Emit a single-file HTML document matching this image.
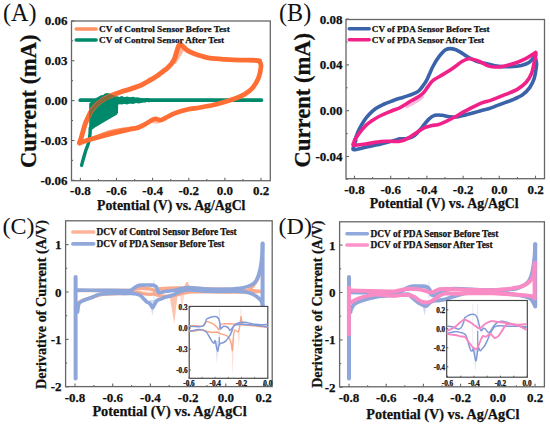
<!DOCTYPE html>
<html><head><meta charset="utf-8"><style>
html,body{margin:0;padding:0;background:#fff;}
svg{display:block;}
text{font-family:"Liberation Serif", serif;} text[font-weight="bold"]{stroke:#111;stroke-width:0.25px;}
</style></head><body>
<svg width="550" height="425" viewBox="0 0 550 425" xmlns="http://www.w3.org/2000/svg">
<rect width="550" height="425" fill="#fff"/>
<text x="3.00" y="20.70" font-size="24.2" font-weight="normal" text-anchor="start" fill="#111" >(A)</text>
<text x="67.50" y="25.36" font-size="13" font-weight="bold" text-anchor="end" fill="#111" >0.06</text>
<text x="67.50" y="65.23" font-size="13" font-weight="bold" text-anchor="end" fill="#111" >0.03</text>
<text x="67.50" y="105.10" font-size="13" font-weight="bold" text-anchor="end" fill="#111" >0.00</text>
<text x="67.50" y="144.97" font-size="13" font-weight="bold" text-anchor="end" fill="#111" >-0.03</text>
<text x="67.50" y="184.84" font-size="13" font-weight="bold" text-anchor="end" fill="#111" >-0.06</text>
<text x="80.40" y="195.00" font-size="13" font-weight="bold" text-anchor="middle" fill="#111" >-0.8</text>
<text x="116.52" y="195.00" font-size="13" font-weight="bold" text-anchor="middle" fill="#111" >-0.6</text>
<text x="152.64" y="195.00" font-size="13" font-weight="bold" text-anchor="middle" fill="#111" >-0.4</text>
<text x="188.76" y="195.00" font-size="13" font-weight="bold" text-anchor="middle" fill="#111" >-0.2</text>
<text x="224.88" y="195.00" font-size="13" font-weight="bold" text-anchor="middle" fill="#111" >0.0</text>
<text x="261.00" y="195.00" font-size="13" font-weight="bold" text-anchor="middle" fill="#111" >0.2</text>
<text x="171.25" y="209.90" font-size="13.78" font-weight="bold" text-anchor="middle" fill="#111" >Potential (V) vs. Ag/AgCl</text>
<text transform="translate(35.8,101.25) rotate(-90)" font-size="22.4" font-weight="bold" text-anchor="middle" fill="#111">Current (mA)</text>
<line x1="80.3" y1="100.2" x2="261.3" y2="100.2" stroke="#00896A" stroke-width="3.8" stroke-linecap="round"/>
<path d="M117.0,98.7 L117.8,100.5 L118.6,99.5 L119.4,100.8 L120.2,100.9 L121.0,97.9 L121.8,97.7 L122.6,101.9 L123.4,99.0 L124.2,98.9 L125.0,102.5 L125.8,100.1 L126.6,101.7 L127.4,100.1 L128.2,100.8 L129.0,98.7 L129.8,100.8 L130.6,101.7 L131.4,100.3 L132.2,101.1 L133.0,100.8 L133.8,98.6 L134.6,101.1 L135.4,100.5 L136.2,99.6 L137.0,98.7 L137.8,101.3 L138.6,100.1 L139.4,100.8 L140.2,101.2 L141.0,100.8 L141.8,101.2 L142.6,99.9 L143.4,100.9 L144.2,100.1 L145.0,101.1 L145.8,100.9 L146.6,99.5 L147.4,99.6 L148.2,99.7 L149.0,100.9 L149.8,100.1 L150.6,100.4" fill="none" stroke="#00896A" stroke-width="2.8" stroke-linecap="round" stroke-linejoin="round" opacity="1" />
<path d="M117,96.3 L120,97 L122,96.2 L124.5,97.2 L127,96.4 L130,97.3 L133,96.8 L136,97.8 L139,97.4 L142,98.4 L146,98.6 L150,99.1 L150,101.4 L146,101.9 L142,102.6 L139,103.4 L136,103 L133,104 L130,103.5 L127,104.4 L124.5,103.8 L122,104.6 L120,104.2 L117,104.8 Z" fill="#00896A"/>
<path d="M89.2,103.5 L91.5,101.5 L94,99.5 L96.5,97.8 L98.8,96.5 L101,95.3 L103,94.9 L105,93.4 L107.2,93 L109.5,93.6 L112.5,94.9 L115,95.8 L117,96.5 L118,98 L118.2,101.8 L118,112.8 L116.8,114.8 L108,119.8 L100.9,124 L95,127.5 L91.3,130.3 L89.2,131 Z" fill="#00896A"/>
<path d="M90.2,128.0 C90.2,129.0 90.2,131.8 90.0,134.0 C89.8,136.2 89.4,139.0 89.0,141.0 C88.6,143.0 88.0,144.6 87.5,146.0 C87.0,147.4 86.7,147.7 86.1,149.5 C85.5,151.3 84.8,153.9 84.0,156.6 C83.2,159.2 82.0,163.9 81.6,165.4" fill="none" stroke="#00896A" stroke-width="3.4" stroke-linecap="round" stroke-linejoin="round" opacity="1" />
<path d="M86,139.5 C92,137 100,133.2 108,130.6 C116,128.3 126,127 138,125.8 L140,129.5 C128,131 118,133.5 110,136.3 C102,138.8 94,141 87,142.5 Z" fill="#FF6E35" opacity="0.75"/>
<path d="M79.5,143.0 C79.9,141.7 81.0,138.3 81.9,135.4 C82.8,132.5 83.8,128.3 84.7,125.5 C85.6,122.7 86.5,120.8 87.5,118.5 C88.5,116.2 89.5,113.8 90.8,111.7 C92.1,109.6 93.5,107.8 95.5,105.8 C97.5,103.8 99.8,101.8 102.5,100.0 C105.2,98.2 108.9,96.7 112.0,95.3 C115.1,93.9 118.2,92.8 121.3,91.7 C124.4,90.6 127.2,90.1 130.7,88.9 C134.1,87.7 138.7,86.2 142.0,84.7 C145.3,83.2 148.1,81.2 150.3,80.0 C152.5,78.8 153.5,78.2 155.0,77.2 C156.5,76.2 158.1,75.2 159.4,74.2 C160.7,73.2 161.8,72.5 163.0,71.5 C164.2,70.5 165.5,69.8 166.9,68.5 C168.3,67.2 170.1,65.5 171.3,64.0 C172.5,62.5 173.4,60.9 174.2,59.3 C175.0,57.7 175.4,56.0 175.9,54.4 C176.4,52.8 176.8,51.1 177.3,49.7 C177.8,48.3 178.2,46.6 178.8,45.8 C179.4,44.9 179.9,44.5 180.6,44.6 C181.3,44.7 182.1,45.7 183.0,46.5 C183.9,47.3 185.0,48.6 186.2,49.5 C187.4,50.4 188.5,51.0 190.0,51.8 C191.5,52.5 193.1,53.3 195.0,54.0 C196.9,54.7 198.9,55.3 201.4,56.0 C203.9,56.7 206.0,57.6 209.9,58.2 C213.8,58.8 219.5,59.1 224.7,59.4 C229.9,59.7 236.2,60.0 241.2,60.1 C246.1,60.2 251.3,60.1 254.4,60.3 C257.4,60.4 258.6,60.9 259.5,61.0" fill="none" stroke="#FF6E35" stroke-width="4.9" stroke-linecap="round" stroke-linejoin="round" opacity="1" />
<path d="M259.5,61.0 C259.8,61.9 261.2,63.6 261.0,66.4 C260.8,69.2 259.9,74.3 258.5,77.9 C257.1,81.5 255.0,85.0 252.7,87.8 C250.4,90.5 247.8,92.5 244.5,94.4 C241.2,96.3 237.7,97.7 233.0,99.3 C228.3,100.9 222.0,102.9 216.5,104.3 C211.0,105.7 204.9,106.6 200.0,107.5 C195.1,108.4 191.6,108.5 187.3,109.5 C183.1,110.5 178.1,112.0 174.5,113.4 C170.9,114.8 167.9,116.7 165.6,117.8 C163.3,118.9 162.2,120.0 160.5,120.2 C158.8,120.4 157.2,118.7 155.5,118.8 C153.8,118.9 152.1,120.1 150.4,121.0 C148.7,121.9 147.4,123.1 145.3,124.2 C143.2,125.3 140.2,126.9 137.6,127.8 C135.0,128.7 133.9,128.5 130.0,129.3 C126.1,130.2 119.3,131.7 114.3,132.9 C109.3,134.1 104.4,135.3 100.2,136.4 C96.0,137.5 92.5,138.6 89.0,139.7 C85.5,140.8 81.1,142.4 79.5,143.0" fill="none" stroke="#FF6E35" stroke-width="4.7" stroke-linecap="round" stroke-linejoin="round" opacity="1" />
<clipPath id="gb"><path d="M89.2,103.5 L91.5,101.5 L94,99.5 L96.5,97.8 L98.8,96.5 L101,95.3 L103,94.9 L105,93.4 L107.2,93 L109.5,93.6 L112.5,94.9 L115,95.8 L117,96.5 L118,98 L118.2,101.8 L118,112.8 L116.8,114.8 L108,119.8 L100.9,124 L95,127.5 L91.3,130.3 L89.2,131 Z"/></clipPath>
<g clip-path="url(#gb)">
<path d="M79.5,143.0 C79.9,141.7 81.0,138.3 81.9,135.4 C82.8,132.5 83.8,128.3 84.7,125.5 C85.6,122.7 86.5,120.8 87.5,118.5 C88.5,116.2 89.5,113.8 90.8,111.7 C92.1,109.6 93.5,107.8 95.5,105.8 C97.5,103.8 99.8,101.8 102.5,100.0 C105.2,98.2 108.9,96.7 112.0,95.3 C115.1,93.9 119.8,92.3 121.3,91.7" fill="none" stroke="#8A6A3A" stroke-width="4.0" stroke-linecap="round" stroke-linejoin="round" opacity="1" />
</g>
<path d="M173.5,63 L175.5,57 L177,51 L178.3,46 L180,43.3 L182.5,44 L185.5,47.5 L184,50.5 L181,55.5 L178,60.5 L175.8,64 Z" fill="#FF6E35" opacity="0.5"/>
<ellipse cx="156" cy="120.5" rx="5" ry="3.5" fill="#FF6E35" opacity="0.35"/>
<rect x="71.5" y="21" width="198.8" height="159.7" fill="none" stroke="#666" stroke-width="1.3"/>
<line x1="80.4" y1="180.7" x2="80.4" y2="177.7" stroke="#666" stroke-width="1.1"/>
<line x1="116.5" y1="180.7" x2="116.5" y2="177.7" stroke="#666" stroke-width="1.1"/>
<line x1="152.6" y1="180.7" x2="152.6" y2="177.7" stroke="#666" stroke-width="1.1"/>
<line x1="188.8" y1="180.7" x2="188.8" y2="177.7" stroke="#666" stroke-width="1.1"/>
<line x1="224.9" y1="180.7" x2="224.9" y2="177.7" stroke="#666" stroke-width="1.1"/>
<line x1="261.0" y1="180.7" x2="261.0" y2="177.7" stroke="#666" stroke-width="1.1"/>
<line x1="98.5" y1="180.7" x2="98.5" y2="179.1" stroke="#666" stroke-width="1.1"/>
<line x1="134.6" y1="180.7" x2="134.6" y2="179.1" stroke="#666" stroke-width="1.1"/>
<line x1="170.7" y1="180.7" x2="170.7" y2="179.1" stroke="#666" stroke-width="1.1"/>
<line x1="206.8" y1="180.7" x2="206.8" y2="179.1" stroke="#666" stroke-width="1.1"/>
<line x1="242.9" y1="180.7" x2="242.9" y2="179.1" stroke="#666" stroke-width="1.1"/>
<line x1="71.5" y1="20.9" x2="74.5" y2="20.9" stroke="#666" stroke-width="1.1"/>
<line x1="71.5" y1="60.7" x2="74.5" y2="60.7" stroke="#666" stroke-width="1.1"/>
<line x1="71.5" y1="100.6" x2="74.5" y2="100.6" stroke="#666" stroke-width="1.1"/>
<line x1="71.5" y1="140.5" x2="74.5" y2="140.5" stroke="#666" stroke-width="1.1"/>
<line x1="71.5" y1="180.3" x2="74.5" y2="180.3" stroke="#666" stroke-width="1.1"/>
<line x1="71.5" y1="40.8" x2="73.1" y2="40.8" stroke="#666" stroke-width="1.1"/>
<line x1="71.5" y1="80.7" x2="73.1" y2="80.7" stroke="#666" stroke-width="1.1"/>
<line x1="71.5" y1="120.5" x2="73.1" y2="120.5" stroke="#666" stroke-width="1.1"/>
<line x1="71.5" y1="160.4" x2="73.1" y2="160.4" stroke="#666" stroke-width="1.1"/>
<line x1="76.2" y1="29" x2="96.1" y2="29" stroke="#FF9163" stroke-width="3.6" stroke-linecap="round"/>
<line x1="76.2" y1="40" x2="96.1" y2="40" stroke="#00896A" stroke-width="3.5" stroke-linecap="round"/>
<text x="99.00" y="32.00" font-size="9.2" font-weight="bold" text-anchor="start" fill="#111" >CV of Control Sensor Before Test</text>
<text x="99.00" y="43.00" font-size="9.2" font-weight="bold" text-anchor="start" fill="#111" >CV of Control Sensor After Test</text>
<text x="279.00" y="21.20" font-size="24.2" font-weight="normal" text-anchor="start" fill="#111" >(B)</text>
<text x="342.50" y="23.60" font-size="13" font-weight="bold" text-anchor="end" fill="#111" >0.08</text>
<text x="342.50" y="69.40" font-size="13" font-weight="bold" text-anchor="end" fill="#111" >0.04</text>
<text x="342.50" y="115.20" font-size="13" font-weight="bold" text-anchor="end" fill="#111" >0.00</text>
<text x="342.50" y="161.00" font-size="13" font-weight="bold" text-anchor="end" fill="#111" >-0.04</text>
<text x="354.50" y="193.50" font-size="13" font-weight="bold" text-anchor="middle" fill="#111" >-0.8</text>
<text x="390.70" y="193.50" font-size="13" font-weight="bold" text-anchor="middle" fill="#111" >-0.6</text>
<text x="426.90" y="193.50" font-size="13" font-weight="bold" text-anchor="middle" fill="#111" >-0.4</text>
<text x="463.10" y="193.50" font-size="13" font-weight="bold" text-anchor="middle" fill="#111" >-0.2</text>
<text x="499.30" y="193.50" font-size="13" font-weight="bold" text-anchor="middle" fill="#111" >0.0</text>
<text x="535.50" y="193.50" font-size="13" font-weight="bold" text-anchor="middle" fill="#111" >0.2</text>
<text x="444.20" y="207.80" font-size="13.83" font-weight="bold" text-anchor="middle" fill="#111" >Potential (V) vs. Ag/AgCl</text>
<text transform="translate(310,100.15) rotate(-90)" font-size="22.6" font-weight="bold" text-anchor="middle" fill="#111">Current (mA)</text>
<path d="M355.5,141.0 C355.6,140.3 355.4,138.9 356.0,137.0 C356.6,135.1 357.5,132.5 358.9,129.8 C360.2,127.1 362.4,123.3 364.1,120.7 C365.8,118.1 367.4,116.2 369.3,114.2 C371.2,112.2 373.5,110.0 375.8,108.4 C378.1,106.8 380.6,105.7 383.2,104.5 C385.8,103.3 388.8,102.2 391.5,101.2 C394.2,100.2 397.0,99.2 399.7,98.3 C402.4,97.4 405.0,96.8 407.6,95.9 C410.2,95.0 413.6,93.8 415.6,92.8 C417.6,91.8 418.5,91.1 419.7,89.9 C420.9,88.7 421.9,87.3 423.0,85.8 C424.1,84.3 425.2,82.8 426.3,80.8 C427.4,78.8 428.4,76.4 429.5,74.0 C430.6,71.6 431.3,69.4 432.9,66.5 C434.4,63.6 436.6,59.6 438.8,56.8 C441.0,54.0 443.5,50.9 445.9,49.6 C448.2,48.3 450.5,48.5 452.9,48.9 C455.2,49.3 457.6,50.5 460.0,51.8 C462.4,53.1 464.4,54.9 467.1,56.5 C469.9,58.1 473.4,60.0 476.5,61.2 C479.6,62.4 482.2,62.6 485.9,63.5 C489.6,64.4 494.8,65.9 498.8,66.4 C502.8,66.9 506.3,66.9 510.1,66.7 C513.9,66.5 518.2,66.1 521.4,65.4 C524.5,64.7 526.8,64.1 529.0,62.6 C531.2,61.1 533.7,57.5 534.6,56.5" fill="none" stroke="#3B63AA" stroke-width="3.6" stroke-linecap="round" stroke-linejoin="round" opacity="1" />
<path d="M534.6,56.5 C534.9,57.2 535.9,59.3 536.2,61.0 C536.5,62.7 536.8,63.5 536.4,66.5 C536.0,69.5 535.2,75.3 534.1,78.8 C533.0,82.3 531.6,84.9 529.7,87.6 C527.8,90.2 525.6,92.6 522.6,94.7 C519.6,96.8 514.9,98.7 512.0,100.0 C509.1,101.3 508.8,101.2 505.0,102.6 C501.2,104.0 493.6,107.1 489.4,108.5 C485.2,109.9 483.3,110.0 480.0,110.9 C476.7,111.8 473.4,112.8 469.8,113.8 C466.2,114.8 461.6,116.2 458.2,116.7 C454.8,117.2 452.2,116.9 449.5,116.7 C446.8,116.5 444.6,115.5 442.2,115.3 C439.8,115.1 437.1,114.7 434.9,115.3 C432.7,115.9 431.3,116.9 429.1,118.9 C426.9,121.0 424.2,124.8 421.8,127.6 C419.4,130.4 416.9,133.8 414.5,135.6 C412.1,137.4 409.7,138.0 407.3,138.5 C404.9,139.0 402.1,138.5 400.0,138.8 C397.9,139.1 398.2,139.3 395.0,140.2 C391.8,141.1 385.8,142.8 380.9,144.0 C376.0,145.2 369.9,146.2 365.4,147.2 C360.9,148.2 355.7,150.0 353.8,149.8 C351.9,149.6 353.6,147.5 353.9,146.0 C354.2,144.5 355.2,141.8 355.5,141.0" fill="none" stroke="#3B63AA" stroke-width="3.6" stroke-linecap="round" stroke-linejoin="round" opacity="1" />
<path d="M355.0,139.5 C355.6,138.5 357.2,135.9 358.9,133.6 C360.6,131.3 363.2,128.1 365.4,125.9 C367.6,123.8 369.3,122.4 371.9,120.7 C374.5,119.0 377.6,117.1 380.9,115.5 C384.2,113.9 388.4,112.3 391.5,111.0 C394.6,109.7 397.2,109.0 399.7,107.8 C402.2,106.6 404.4,105.2 406.3,104.0 C408.2,102.8 409.2,102.0 411.2,100.8 C413.1,99.6 416.0,98.3 418.0,97.0 C420.0,95.7 421.6,94.5 423.0,93.2 C424.4,91.9 425.1,90.7 426.3,89.0 C427.5,87.3 429.1,84.9 430.4,83.3 C431.7,81.7 432.1,81.1 434.3,79.6 C436.5,78.1 440.4,76.0 443.5,74.1 C446.6,72.2 449.8,70.3 452.9,68.2 C456.0,66.1 459.6,62.8 462.4,61.2 C465.1,59.6 466.7,58.8 469.4,58.8 C472.1,58.8 475.7,60.0 478.8,61.2 C481.9,62.4 485.5,64.9 488.2,65.9 C490.9,66.9 492.6,66.9 495.0,67.0 C497.4,67.1 499.5,67.0 502.6,66.4 C505.8,65.8 510.1,64.8 513.9,63.5 C517.7,62.2 521.6,60.6 525.2,58.8 C528.8,57.0 533.9,53.5 535.6,52.5" fill="none" stroke="#F0228A" stroke-width="3.6" stroke-linecap="round" stroke-linejoin="round" opacity="1" />
<path d="M535.6,52.5 C535.6,52.9 536.1,53.3 535.9,55.0 C535.6,56.7 534.8,59.8 534.1,62.9 C533.4,66.0 532.8,70.3 531.5,73.5 C530.2,76.7 528.6,79.6 526.2,82.3 C523.8,85.0 520.8,87.3 517.3,89.4 C513.8,91.5 509.3,92.9 505.0,94.7 C500.7,96.5 495.5,98.6 491.3,100.1 C487.1,101.6 484.3,101.8 480.0,103.6 C475.7,105.4 469.9,108.6 465.5,110.9 C461.1,113.2 457.2,115.7 453.8,117.5 C450.4,119.3 447.8,120.6 445.1,121.8 C442.4,123.0 440.0,124.1 437.8,124.7 C435.6,125.3 434.2,125.0 432.0,125.5 C429.8,126.0 427.1,126.5 424.7,127.6 C422.3,128.7 420.2,130.3 417.5,132.0 C414.8,133.7 411.6,136.2 408.7,137.8 C405.8,139.4 403.1,140.7 400.0,141.3 C396.9,141.9 393.6,141.3 390.4,141.3 C387.2,141.3 385.1,141.1 380.9,141.5 C376.7,141.9 369.9,143.4 365.4,144.0 C360.9,144.6 355.7,145.6 353.8,145.3 C351.9,145.0 353.8,143.0 354.0,142.0 C354.2,141.0 354.8,139.9 355.0,139.5" fill="none" stroke="#F0228A" stroke-width="3.6" stroke-linecap="round" stroke-linejoin="round" opacity="1" />
<path d="M405,106.5 L412,102 L418,98.5 L422.5,95 L424.5,97.5 L419.5,101.5 L412.5,105.5 L406.5,108.5 Z" fill="#F0228A" opacity="0.3"/>
<rect x="346" y="19.5" width="198.5" height="159.2" fill="none" stroke="#666" stroke-width="1.3"/>
<line x1="354.5" y1="178.7" x2="354.5" y2="175.7" stroke="#666" stroke-width="1.1"/>
<line x1="390.7" y1="178.7" x2="390.7" y2="175.7" stroke="#666" stroke-width="1.1"/>
<line x1="426.9" y1="178.7" x2="426.9" y2="175.7" stroke="#666" stroke-width="1.1"/>
<line x1="463.1" y1="178.7" x2="463.1" y2="175.7" stroke="#666" stroke-width="1.1"/>
<line x1="499.3" y1="178.7" x2="499.3" y2="175.7" stroke="#666" stroke-width="1.1"/>
<line x1="535.5" y1="178.7" x2="535.5" y2="175.7" stroke="#666" stroke-width="1.1"/>
<line x1="372.6" y1="178.7" x2="372.6" y2="177.1" stroke="#666" stroke-width="1.1"/>
<line x1="408.8" y1="178.7" x2="408.8" y2="177.1" stroke="#666" stroke-width="1.1"/>
<line x1="445.0" y1="178.7" x2="445.0" y2="177.1" stroke="#666" stroke-width="1.1"/>
<line x1="481.2" y1="178.7" x2="481.2" y2="177.1" stroke="#666" stroke-width="1.1"/>
<line x1="517.4" y1="178.7" x2="517.4" y2="177.1" stroke="#666" stroke-width="1.1"/>
<line x1="346" y1="19.1" x2="349" y2="19.1" stroke="#666" stroke-width="1.1"/>
<line x1="346" y1="64.9" x2="349" y2="64.9" stroke="#666" stroke-width="1.1"/>
<line x1="346" y1="110.7" x2="349" y2="110.7" stroke="#666" stroke-width="1.1"/>
<line x1="346" y1="156.5" x2="349" y2="156.5" stroke="#666" stroke-width="1.1"/>
<line x1="346" y1="42.0" x2="347.6" y2="42.0" stroke="#666" stroke-width="1.1"/>
<line x1="346" y1="87.8" x2="347.6" y2="87.8" stroke="#666" stroke-width="1.1"/>
<line x1="346" y1="133.6" x2="347.6" y2="133.6" stroke="#666" stroke-width="1.1"/>
<line x1="346" y1="179.4" x2="347.6" y2="179.4" stroke="#666" stroke-width="1.1"/>
<line x1="349.2" y1="28.7" x2="369.3" y2="28.7" stroke="#3B63AA" stroke-width="3.4" stroke-linecap="round"/>
<line x1="349.2" y1="39.8" x2="369.3" y2="39.8" stroke="#F0228A" stroke-width="3.4" stroke-linecap="round"/>
<text x="371.80" y="31.80" font-size="9.15" font-weight="bold" text-anchor="start" fill="#111" >CV of PDA Sensor Before Test</text>
<text x="371.80" y="42.80" font-size="9.15" font-weight="bold" text-anchor="start" fill="#111" >CV of PDA Sensor After Test</text>
<text x="2.40" y="234.30" font-size="24" font-weight="normal" text-anchor="start" fill="#111" >(C)</text>
<text x="61.50" y="249.10" font-size="13" font-weight="bold" text-anchor="end" fill="#111" >1</text>
<text x="61.50" y="296.50" font-size="13" font-weight="bold" text-anchor="end" fill="#111" >0</text>
<text x="61.50" y="343.90" font-size="13" font-weight="bold" text-anchor="end" fill="#111" >-1</text>
<text x="61.50" y="391.30" font-size="13" font-weight="bold" text-anchor="end" fill="#111" >-2</text>
<text x="75.00" y="401.50" font-size="13" font-weight="bold" text-anchor="middle" fill="#111" >-0.8</text>
<text x="112.70" y="401.50" font-size="13" font-weight="bold" text-anchor="middle" fill="#111" >-0.6</text>
<text x="150.40" y="401.50" font-size="13" font-weight="bold" text-anchor="middle" fill="#111" >-0.4</text>
<text x="188.10" y="401.50" font-size="13" font-weight="bold" text-anchor="middle" fill="#111" >-0.2</text>
<text x="225.80" y="401.50" font-size="13" font-weight="bold" text-anchor="middle" fill="#111" >0.0</text>
<text x="263.50" y="401.50" font-size="13" font-weight="bold" text-anchor="middle" fill="#111" >0.2</text>
<text x="169.50" y="416.40" font-size="14.32" font-weight="bold" text-anchor="middle" fill="#111" >Potential (V) vs. Ag/AgCl</text>
<text transform="translate(46,304.5) rotate(-90)" font-size="14.2" font-weight="bold" text-anchor="middle" fill="#111">Derivative of Current (A/V)</text>
<path d="M76.0,290.5 C80.0,290.5 91.7,290.5 100.0,290.5 C108.3,290.5 120.7,290.6 126.0,290.5 C131.3,290.4 130.1,290.3 132.0,290.0 C133.9,289.7 135.8,288.8 137.5,288.5 C139.2,288.2 140.4,288.1 142.5,288.2 C144.6,288.3 148.0,288.6 149.8,288.9 C151.6,289.2 152.3,289.7 153.5,290.0 C154.7,290.3 156.0,291.0 157.0,290.8 C158.0,290.6 157.5,289.3 159.3,288.9 C161.1,288.5 165.2,288.3 168.0,288.2 C170.8,288.1 173.3,288.0 176.0,288.0 C178.7,288.0 181.8,288.0 184.0,288.0 C186.2,288.0 185.0,287.6 189.0,287.8 C193.0,288.0 201.5,288.7 208.0,289.0 C214.5,289.3 222.2,289.3 228.0,289.5 C233.8,289.7 239.2,289.8 243.0,290.0 C246.8,290.2 247.8,290.2 251.0,290.5 C254.2,290.8 260.3,291.3 262.2,291.5" fill="none" stroke="#FBAA8C" stroke-width="3.4" stroke-linecap="round" stroke-linejoin="round" opacity="1" />
<path d="M78.0,303.0 C78.8,302.6 80.2,301.4 82.5,300.5 C84.8,299.6 88.8,298.4 91.9,297.4 C95.0,296.4 97.8,295.1 101.3,294.5 C104.8,293.9 108.9,294.0 113.0,293.8 C117.1,293.6 122.8,293.6 126.0,293.5 C129.2,293.4 130.1,293.2 132.0,293.0 C133.9,292.8 135.8,292.3 137.5,292.4 C139.2,292.5 140.4,293.3 142.5,293.6 C144.6,293.9 147.9,294.3 149.8,294.4 C151.8,294.5 152.8,293.8 154.2,294.0 C155.6,294.2 156.9,295.1 158.5,295.5 C160.1,295.9 162.1,296.1 164.0,296.2 C165.9,296.3 168.0,296.2 170.0,296.0 C172.0,295.8 174.0,295.4 176.0,295.0 C178.0,294.6 179.7,294.0 182.0,293.5 C184.3,293.0 187.0,292.3 190.0,292.0 C193.0,291.7 193.7,291.8 200.0,291.8 C206.3,291.8 220.5,292.0 228.0,292.0 C235.5,292.0 240.5,291.9 245.0,291.8 C249.5,291.7 252.2,291.6 255.0,291.6 C257.8,291.6 260.4,291.6 261.5,291.6" fill="none" stroke="#FBAA8C" stroke-width="3.4" stroke-linecap="round" stroke-linejoin="round" opacity="1" />
<path d="M250.0,289.0 C250.8,288.1 253.4,285.5 254.8,283.5 C256.2,281.5 257.5,279.2 258.5,277.0 C259.5,274.8 260.4,271.8 261.0,270.0 C261.6,268.2 262.1,266.7 262.3,266.0" fill="none" stroke="#FBAA8C" stroke-width="3.6" stroke-linecap="round" stroke-linejoin="round" opacity="1" />
<path d="M169.3,294.5 L174.3,323.5 L177.6,294.5 Z" fill="#FBAA8C" opacity="0.7"/>
<path d="M179.5,295 L182.3,307.5 L184.5,295 Z" fill="#FBAA8C" opacity="0.4"/>
<path d="M183,289 L184.6,285.5 L186.4,282 L187.8,282 L189.2,285.5 L190.8,289 Z" fill="#FBAA8C" opacity="0.8"/>
<path d="M132,290 L137.5,288.5 L142.5,288.2 L149.8,288.9 L154,290 L158.5,291 L158.5,295.5 L154.2,294 L149.8,294.4 L142.5,293.6 L137.5,292.4 Z" fill="#FBAA8C" opacity="0.2"/>
<line x1="75.6" y1="277" x2="75.6" y2="378.5" stroke="#8EA6DA" stroke-width="4" stroke-linecap="round"/>
<path d="M75.6,290.2 C79.7,290.2 91.6,290.2 100.0,290.3 C108.4,290.4 120.8,290.6 126.0,290.6 C131.2,290.6 129.6,290.8 131.0,290.3 C132.4,289.8 133.4,288.5 134.5,287.8 C135.6,287.1 136.4,286.3 137.5,285.9 C138.6,285.5 139.6,285.3 141.2,285.2 C142.8,285.1 145.2,285.0 147.0,285.0 C148.8,285.0 150.7,285.0 152.0,285.1 C153.3,285.2 154.2,285.5 155.0,285.9 C155.8,286.3 156.2,286.7 156.6,287.4 C157.0,288.1 157.2,289.2 157.5,290.0 C157.8,290.8 158.0,291.9 158.3,292.3 C158.6,292.8 158.7,292.8 159.5,292.7 C160.3,292.6 161.5,292.2 162.9,291.9 C164.3,291.6 165.9,291.4 168.0,291.1 C170.1,290.8 173.0,290.6 175.3,290.2 C177.6,289.8 179.3,288.9 181.6,288.5 C183.9,288.1 184.8,287.6 189.3,287.7 C193.8,287.8 202.2,288.9 208.6,289.1 C215.0,289.3 222.0,289.3 227.8,289.1 C233.6,288.9 239.4,288.4 243.3,287.7 C247.2,287.0 248.9,286.2 251.0,285.2 C253.1,284.1 254.5,283.2 255.8,281.4 C257.1,279.6 257.9,277.0 258.7,274.6 C259.5,272.2 260.0,270.4 260.6,266.9 C261.2,263.4 261.9,257.3 262.2,253.4 C262.5,249.5 262.5,245.2 262.6,243.5" fill="none" stroke="#8EA6DA" stroke-width="3.7" stroke-linecap="round" stroke-linejoin="round" opacity="1" />
<path d="M77.5,312.0 C77.7,310.6 78.1,305.7 78.9,303.8 C79.7,301.9 81.1,301.7 82.5,300.9 C83.9,300.1 85.6,299.7 87.2,299.1 C88.8,298.5 90.3,298.0 91.9,297.4 C93.5,296.8 95.0,295.9 96.6,295.3 C98.2,294.7 98.6,294.3 101.3,294.0 C104.0,293.7 108.9,293.4 113.0,293.3 C117.1,293.2 122.9,293.3 126.0,293.3 C129.1,293.3 130.2,293.4 131.8,293.5 C133.4,293.6 133.9,293.5 135.3,293.8 C136.7,294.1 139.0,294.6 140.4,295.5 C141.8,296.4 142.9,298.0 144.0,299.1 C145.1,300.2 146.1,301.4 146.9,302.0 C147.8,302.6 148.4,302.3 149.1,302.9 C149.8,303.5 150.7,304.8 151.3,305.6 C151.9,306.4 152.1,307.8 152.7,307.5 C153.3,307.2 154.2,304.9 154.9,303.8 C155.6,302.7 156.0,301.5 156.6,300.8 C157.2,300.1 157.8,300.0 158.5,299.7 C159.2,299.4 159.7,299.5 160.7,299.1 C161.7,298.8 163.2,298.0 164.4,297.6 C165.6,297.2 166.6,296.9 168.0,296.5 C169.4,296.1 170.9,295.8 172.9,295.0 C174.9,294.2 177.3,292.6 180.0,291.8 C182.7,291.0 184.5,290.1 189.3,290.0 C194.1,289.9 202.2,291.0 208.6,291.2 C215.0,291.4 223.4,291.4 227.8,291.4 C232.2,291.4 231.8,291.0 235.0,291.2 C238.2,291.4 243.9,291.8 246.8,292.3 C249.7,292.8 250.8,293.3 252.6,294.1 C254.3,294.9 255.9,295.9 257.3,297.0 C258.7,298.1 260.0,299.2 260.9,300.5 C261.8,301.8 262.3,304.2 262.6,305.0" fill="none" stroke="#8EA6DA" stroke-width="3.7" stroke-linecap="round" stroke-linejoin="round" opacity="1" />
<line x1="262.6" y1="243.5" x2="262.6" y2="305" stroke="#8EA6DA" stroke-width="4" stroke-linecap="round"/>
<path d="M149.3,300 L152.3,315.5 L155.6,300 Z" fill="#8EA6DA" opacity="0.4"/>
<line x1="154" y1="280" x2="154" y2="300" stroke="#8EA6DA" stroke-width="0.8" opacity="0.35"/>
<rect x="65.6" y="220.8" width="206.6" height="165.8" fill="none" stroke="#666" stroke-width="1.3"/>
<line x1="75.0" y1="386.6" x2="75.0" y2="383.6" stroke="#666" stroke-width="1.1"/>
<line x1="112.7" y1="386.6" x2="112.7" y2="383.6" stroke="#666" stroke-width="1.1"/>
<line x1="150.4" y1="386.6" x2="150.4" y2="383.6" stroke="#666" stroke-width="1.1"/>
<line x1="188.1" y1="386.6" x2="188.1" y2="383.6" stroke="#666" stroke-width="1.1"/>
<line x1="225.8" y1="386.6" x2="225.8" y2="383.6" stroke="#666" stroke-width="1.1"/>
<line x1="263.5" y1="386.6" x2="263.5" y2="383.6" stroke="#666" stroke-width="1.1"/>
<line x1="93.9" y1="386.6" x2="93.9" y2="385.0" stroke="#666" stroke-width="1.1"/>
<line x1="131.6" y1="386.6" x2="131.6" y2="385.0" stroke="#666" stroke-width="1.1"/>
<line x1="169.2" y1="386.6" x2="169.2" y2="385.0" stroke="#666" stroke-width="1.1"/>
<line x1="207.0" y1="386.6" x2="207.0" y2="385.0" stroke="#666" stroke-width="1.1"/>
<line x1="244.7" y1="386.6" x2="244.7" y2="385.0" stroke="#666" stroke-width="1.1"/>
<line x1="65.6" y1="244.6" x2="68.6" y2="244.6" stroke="#666" stroke-width="1.1"/>
<line x1="65.6" y1="292.0" x2="68.6" y2="292.0" stroke="#666" stroke-width="1.1"/>
<line x1="65.6" y1="339.4" x2="68.6" y2="339.4" stroke="#666" stroke-width="1.1"/>
<line x1="65.6" y1="386.8" x2="68.6" y2="386.8" stroke="#666" stroke-width="1.1"/>
<line x1="65.6" y1="268.3" x2="67.19999999999999" y2="268.3" stroke="#666" stroke-width="1.1"/>
<line x1="65.6" y1="315.7" x2="67.19999999999999" y2="315.7" stroke="#666" stroke-width="1.1"/>
<line x1="65.6" y1="363.1" x2="67.19999999999999" y2="363.1" stroke="#666" stroke-width="1.1"/>
<line x1="72.9" y1="232" x2="93.6" y2="232" stroke="#FFB39A" stroke-width="3.7" stroke-linecap="round"/>
<line x1="72.9" y1="243.8" x2="93.6" y2="243.8" stroke="#92A9DC" stroke-width="3.7" stroke-linecap="round"/>
<text x="96.50" y="235.30" font-size="9.4" font-weight="bold" text-anchor="start" fill="#111" >DCV of Control Sensor Before Test</text>
<text x="96.50" y="246.80" font-size="9.4" font-weight="bold" text-anchor="start" fill="#111" >DCV of PDA Sensor Before Test</text>
<rect x="189.2" y="306.4" width="78.60000000000002" height="71.90000000000003" fill="#fff" stroke="#444" stroke-width="1.15"/>
<text x="187.60" y="309.60" font-size="7.2" font-weight="bold" text-anchor="end" fill="#111" >0.3</text>
<line x1="189.2" y1="307.0" x2="190.79999999999998" y2="307.0" stroke="#444" stroke-width="0.9"/>
<text x="187.60" y="330.60" font-size="7.2" font-weight="bold" text-anchor="end" fill="#111" >0.0</text>
<line x1="189.2" y1="328.0" x2="190.79999999999998" y2="328.0" stroke="#444" stroke-width="0.9"/>
<text x="187.60" y="351.60" font-size="7.2" font-weight="bold" text-anchor="end" fill="#111" >-0.3</text>
<line x1="189.2" y1="349.0" x2="190.79999999999998" y2="349.0" stroke="#444" stroke-width="0.9"/>
<text x="187.60" y="372.60" font-size="7.2" font-weight="bold" text-anchor="end" fill="#111" >-0.6</text>
<line x1="189.2" y1="370.0" x2="190.79999999999998" y2="370.0" stroke="#444" stroke-width="0.9"/>
<text x="189.00" y="386.10" font-size="7.3" font-weight="bold" text-anchor="middle" fill="#111" >-0.6</text>
<text x="215.24" y="386.10" font-size="7.3" font-weight="bold" text-anchor="middle" fill="#111" >-0.4</text>
<text x="241.48" y="386.10" font-size="7.3" font-weight="bold" text-anchor="middle" fill="#111" >-0.2</text>
<text x="267.72" y="386.10" font-size="7.3" font-weight="bold" text-anchor="middle" fill="#111" >0.0</text>
<line x1="189.0" y1="378.3" x2="189.0" y2="376.8" stroke="#666" stroke-width="0.8"/>
<line x1="202.1" y1="378.3" x2="202.1" y2="376.8" stroke="#666" stroke-width="0.8"/>
<line x1="215.2" y1="378.3" x2="215.2" y2="376.8" stroke="#666" stroke-width="0.8"/>
<line x1="228.4" y1="378.3" x2="228.4" y2="376.8" stroke="#666" stroke-width="0.8"/>
<line x1="241.5" y1="378.3" x2="241.5" y2="376.8" stroke="#666" stroke-width="0.8"/>
<line x1="254.6" y1="378.3" x2="254.6" y2="376.8" stroke="#666" stroke-width="0.8"/>
<line x1="267.7" y1="378.3" x2="267.7" y2="376.8" stroke="#666" stroke-width="0.8"/>
<path d="M215.4,341 L216.8,364 L218.9,341 Z" fill="#8299D8" opacity="0.28"/>
<path d="M231.2,340 L232.6,375 L234.2,338 Z" fill="#F9A586" opacity="0.35"/>
<path d="M237.6,333 L238.8,347 L240.2,333 Z" fill="#F9A586" opacity="0.3"/>
<line x1="219.3" y1="309" x2="219.3" y2="340" stroke="#8299D8" stroke-width="0.8" opacity="0.35"/>
<line x1="241" y1="309" x2="241" y2="318" stroke="#F9A586" stroke-width="0.8" opacity="0.4"/>
<path d="M189.5,325.7 C190.9,325.7 195.5,325.6 197.7,325.7 C199.9,325.8 201.1,326.8 202.5,326.2 C203.9,325.6 205.2,322.5 206.3,321.9 C207.4,321.2 208.1,322.0 209.2,322.3 C210.3,322.6 211.8,323.0 213.1,323.8 C214.4,324.6 216.0,326.2 217.0,327.2 C218.0,328.2 218.3,330.0 218.9,329.6 C219.5,329.2 219.8,325.8 220.8,324.8 C221.8,323.8 223.2,324.0 224.7,323.8 C226.2,323.6 228.2,323.7 230.0,323.8 C231.8,323.9 233.2,324.1 235.7,324.3 C238.2,324.5 241.8,324.7 245.0,325.0 C248.2,325.3 251.3,325.6 255.0,326.0 C258.7,326.4 265.2,327.0 267.2,327.2" fill="none" stroke="#F9A586" stroke-width="1.4" stroke-linecap="round" stroke-linejoin="round" opacity="1" />
<path d="M189.5,331.5 L197.7,330.5 L202.5,329.6 L207.3,331.5 L212.1,332.5 L217.0,332.0 L220.8,333.9 L224.7,334.9 L227.2,335.8 L229.9,339.5 L231.5,344.8 L232.3,350.6 L233.0,342.7 L233.6,334.2 L234.6,330.0 L236.5,331.0 L238.5,332.0 L239.8,326.0 L241.0,316.5 L242.2,324.0 L245.0,324.5" fill="none" stroke="#F9A586" stroke-width="1.4" stroke-linecap="round" stroke-linejoin="round" opacity="1" />
<path d="M189.5,326.2 C190.2,326.2 192.1,326.3 193.8,326.4 C195.5,326.5 198.0,326.8 199.6,326.7 C201.2,326.6 202.4,326.4 203.4,325.7 C204.4,325.0 204.8,323.4 205.4,322.3 C206.0,321.2 206.0,319.8 206.8,319.0 C207.6,318.2 209.0,317.9 210.2,317.5 C211.4,317.1 213.0,316.6 214.1,316.5 C215.2,316.4 216.2,316.5 217.0,317.0 C217.8,317.5 218.4,318.3 218.9,319.4 C219.4,320.4 219.7,322.0 219.9,323.3 C220.1,324.6 220.2,326.2 220.3,327.2 C220.5,328.2 220.5,329.1 220.8,329.1 C221.1,329.1 221.7,327.7 222.3,327.2 C222.9,326.7 223.5,326.3 224.2,326.2 C224.9,326.1 225.9,326.4 226.6,326.7 C227.3,327.0 227.9,327.5 228.5,328.1 C229.1,328.7 229.2,330.6 229.9,330.5 C230.6,330.4 231.8,328.1 232.8,327.2 C233.8,326.2 234.4,325.3 235.7,324.8 C237.0,324.3 238.1,324.3 240.5,324.3 C242.9,324.3 246.9,324.6 250.1,324.8 C253.3,325.0 256.9,325.4 259.8,325.7 C262.7,326.0 266.0,326.5 267.2,326.7" fill="none" stroke="#8299D8" stroke-width="1.5" stroke-linecap="round" stroke-linejoin="round" opacity="1" />
<path d="M189.5,331.0 C190.2,330.9 192.4,330.7 193.8,330.5 C195.2,330.3 196.2,329.7 197.7,329.6 C199.1,329.5 201.1,329.7 202.5,330.1 C203.9,330.5 205.2,330.9 206.3,332.0 C207.4,333.1 208.2,334.9 209.2,336.5 C210.2,338.1 211.4,340.5 212.2,341.6 C213.0,342.7 213.5,343.4 214.0,343.2 C214.5,343.0 214.7,340.3 215.0,340.6 C215.3,340.9 215.7,343.0 216.1,344.8 C216.5,346.6 217.2,351.0 217.7,351.2 C218.1,351.4 218.3,347.2 218.8,345.9 C219.3,344.6 220.2,343.7 220.9,343.2 C221.6,342.7 222.1,343.1 223.0,342.7 C223.9,342.3 225.1,341.7 226.2,340.6 C227.2,339.5 228.4,337.7 229.3,336.3 C230.2,334.9 230.8,333.8 231.5,332.1 C232.2,330.4 232.7,327.7 233.7,326.2 C234.7,324.7 236.3,323.9 237.6,323.3 C238.9,322.7 240.1,322.5 241.4,322.3 C242.7,322.1 243.9,322.1 245.3,322.3 C246.8,322.5 248.5,323.0 250.1,323.3 C251.7,323.6 253.2,324.1 255.0,324.3 C256.8,324.6 258.7,324.8 260.7,324.8 C262.7,324.8 266.1,324.4 267.2,324.3" fill="none" stroke="#8299D8" stroke-width="1.5" stroke-linecap="round" stroke-linejoin="round" opacity="1" />
<line x1="219.3" y1="337" x2="219.3" y2="346" stroke="#8299D8" stroke-width="1.3"/>
<text x="278.60" y="234.30" font-size="24" font-weight="normal" text-anchor="start" fill="#111" >(D)</text>
<text x="335.50" y="249.60" font-size="13" font-weight="bold" text-anchor="end" fill="#111" >1</text>
<text x="335.50" y="297.00" font-size="13" font-weight="bold" text-anchor="end" fill="#111" >0</text>
<text x="335.50" y="344.40" font-size="13" font-weight="bold" text-anchor="end" fill="#111" >-1</text>
<text x="335.50" y="391.80" font-size="13" font-weight="bold" text-anchor="end" fill="#111" >-2</text>
<text x="349.00" y="402.00" font-size="13" font-weight="bold" text-anchor="middle" fill="#111" >-0.8</text>
<text x="386.20" y="402.00" font-size="13" font-weight="bold" text-anchor="middle" fill="#111" >-0.6</text>
<text x="423.40" y="402.00" font-size="13" font-weight="bold" text-anchor="middle" fill="#111" >-0.4</text>
<text x="460.60" y="402.00" font-size="13" font-weight="bold" text-anchor="middle" fill="#111" >-0.2</text>
<text x="497.80" y="402.00" font-size="13" font-weight="bold" text-anchor="middle" fill="#111" >0.0</text>
<text x="535.00" y="402.00" font-size="13" font-weight="bold" text-anchor="middle" fill="#111" >0.2</text>
<text x="442.85" y="418.70" font-size="14.22" font-weight="bold" text-anchor="middle" fill="#111" >Potential (V) vs. Ag/AgCl</text>
<text transform="translate(321.5,304.15) rotate(-90)" font-size="14.07" font-weight="bold" text-anchor="middle" fill="#111">Derivative of Current (A/V)</text>
<line x1="349" y1="277" x2="349" y2="378.5" stroke="#8EA6DA" stroke-width="4" stroke-linecap="round"/>
<path d="M349.0,292.3 C356.6,292.3 385.7,292.7 394.5,292.5 C403.3,292.3 400.1,291.7 402.0,291.0 C403.9,290.3 404.7,289.2 406.0,288.5 C407.3,287.8 408.7,287.2 410.0,286.8 C411.3,286.4 412.0,286.4 414.0,286.3 C416.0,286.2 419.7,286.2 421.8,286.3 C423.9,286.4 425.2,286.3 426.5,286.8 C427.8,287.3 428.8,288.3 429.5,289.5 C430.2,290.7 430.2,293.0 431.0,294.0 C431.8,295.0 432.5,295.7 434.0,295.5 C435.5,295.3 437.2,294.1 440.0,293.0 C442.8,291.9 445.7,289.6 451.0,289.0 C456.3,288.4 466.6,289.3 471.8,289.5 C477.0,289.7 477.1,290.1 482.3,290.2 C487.5,290.2 497.3,290.1 503.2,289.8 C509.1,289.5 513.7,289.4 517.9,288.1 C522.1,286.8 525.9,284.6 528.3,281.8 C530.7,279.0 531.5,275.6 532.5,271.4 C533.5,267.2 534.1,261.2 534.6,256.7 C535.1,252.2 535.1,246.3 535.2,244.2" fill="none" stroke="#8EA6DA" stroke-width="4.0" stroke-linecap="round" stroke-linejoin="round" opacity="1" />
<path d="M350.5,312.0 C350.6,311.6 350.3,310.8 351.0,309.5 C351.7,308.2 352.7,305.5 354.5,304.0 C356.3,302.5 358.2,301.7 361.8,300.5 C365.4,299.3 370.9,297.7 376.4,296.8 C381.8,295.9 390.1,295.4 394.5,295.0 C398.9,294.6 400.6,294.6 403.0,294.5 C405.4,294.4 407.5,294.2 408.8,294.5 C410.1,294.8 409.9,295.4 410.9,296.2 C411.8,297.0 413.3,298.4 414.5,299.5 C415.7,300.6 417.0,301.6 418.3,302.5 C419.6,303.4 421.4,304.2 422.5,304.7 C423.6,305.2 424.0,305.5 424.7,305.7 C425.4,305.9 425.9,306.2 426.8,305.7 C427.7,305.2 429.0,303.3 430.0,302.5 C431.0,301.7 431.8,301.4 433.0,301.0 C434.2,300.6 435.4,300.7 437.4,300.4 C439.4,300.1 442.1,300.1 445.0,299.4 C447.9,298.7 450.5,297.2 455.0,296.0 C459.5,294.8 463.8,292.8 471.8,292.3 C479.8,291.9 495.2,292.8 503.2,293.3 C511.2,293.8 515.5,294.5 520.0,295.4 C524.5,296.3 528.0,297.0 530.4,298.6 C532.8,300.2 533.9,303.8 534.6,304.9" fill="none" stroke="#8EA6DA" stroke-width="4.0" stroke-linecap="round" stroke-linejoin="round" opacity="1" />
<line x1="535.2" y1="244.2" x2="535.2" y2="306.5" stroke="#8EA6DA" stroke-width="4" stroke-linecap="round"/>
<path d="M422,302 L424.5,315.5 L427,302 Z" fill="#8EA6DA" opacity="0.45"/>
<line x1="428.9" y1="281.5" x2="428.9" y2="298" stroke="#8EA6DA" stroke-width="0.8" opacity="0.4"/>
<line x1="348.9" y1="286" x2="348.9" y2="336" stroke="#F98CC4" stroke-width="4.0" stroke-linecap="butt"/>
<path d="M349.0,290.5 C355.8,290.6 382.3,291.3 390.0,291.4 C397.7,291.5 393.1,291.5 395.0,291.3 C396.9,291.1 399.3,290.4 401.4,290.0 C403.5,289.6 405.6,289.2 407.7,289.0 C409.8,288.8 412.0,288.8 414.1,288.9 C416.2,289.0 418.3,289.2 420.4,289.6 C422.5,290.0 425.0,290.8 426.8,291.3 C428.6,291.8 429.6,292.7 431.0,292.6 C432.4,292.6 433.9,291.6 435.3,291.0 C436.7,290.4 437.9,289.6 439.5,289.3 C441.1,289.0 443.1,289.0 445.0,289.0 C446.9,289.0 446.8,289.1 451.0,289.2 C455.2,289.3 463.0,289.6 470.0,289.8 C477.0,290.0 486.8,290.3 492.8,290.2 C498.8,290.1 502.5,289.7 506.0,289.3 C509.5,288.9 511.4,288.5 514.0,288.0 C516.6,287.5 519.1,287.1 521.5,286.3 C523.9,285.5 526.3,284.4 528.1,283.0 C529.9,281.6 531.2,280.2 532.2,278.0 C533.2,275.8 533.8,272.5 534.3,270.0 C534.8,267.5 534.8,264.2 534.9,263.0" fill="none" stroke="#F98CC4" stroke-width="4.0" stroke-linecap="round" stroke-linejoin="round" opacity="1" />
<path d="M350.9,302.3 C352.1,301.7 355.5,299.7 358.2,298.6 C360.9,297.5 364.3,296.6 367.3,295.9 C370.3,295.2 371.8,294.5 376.4,294.5 C381.0,294.5 390.8,295.6 395.0,295.7 C399.2,295.8 399.1,295.2 401.4,295.1 C403.7,295.0 406.7,294.8 408.8,295.1 C410.9,295.4 412.5,295.9 414.1,296.7 C415.7,297.5 416.9,299.0 418.3,299.9 C419.7,300.8 421.1,301.6 422.5,302.0 C423.9,302.4 425.4,302.6 426.8,302.5 C428.2,302.4 429.6,302.1 431.0,301.5 C432.4,300.9 433.9,299.8 435.3,298.8 C436.7,297.8 437.9,296.6 439.5,295.7 C441.1,294.8 442.4,293.8 445.0,293.5 C447.6,293.2 450.7,293.8 455.0,293.8 C459.3,293.8 464.7,293.4 471.0,293.3 C477.3,293.2 485.0,293.1 492.8,293.3 C500.6,293.6 510.9,294.3 517.9,294.8 C524.9,295.3 531.8,296.2 534.6,296.5" fill="none" stroke="#F98CC4" stroke-width="4.0" stroke-linecap="round" stroke-linejoin="round" opacity="1" />
<line x1="534.6" y1="263" x2="534.6" y2="298.6" stroke="#F98CC4" stroke-width="4" stroke-linecap="round"/>
<rect x="339.6" y="221.8" width="204.79999999999995" height="165.0" fill="none" stroke="#666" stroke-width="1.3"/>
<line x1="349.0" y1="386.8" x2="349.0" y2="383.8" stroke="#666" stroke-width="1.1"/>
<line x1="386.2" y1="386.8" x2="386.2" y2="383.8" stroke="#666" stroke-width="1.1"/>
<line x1="423.4" y1="386.8" x2="423.4" y2="383.8" stroke="#666" stroke-width="1.1"/>
<line x1="460.6" y1="386.8" x2="460.6" y2="383.8" stroke="#666" stroke-width="1.1"/>
<line x1="497.8" y1="386.8" x2="497.8" y2="383.8" stroke="#666" stroke-width="1.1"/>
<line x1="535.0" y1="386.8" x2="535.0" y2="383.8" stroke="#666" stroke-width="1.1"/>
<line x1="367.6" y1="386.8" x2="367.6" y2="385.2" stroke="#666" stroke-width="1.1"/>
<line x1="404.8" y1="386.8" x2="404.8" y2="385.2" stroke="#666" stroke-width="1.1"/>
<line x1="442.0" y1="386.8" x2="442.0" y2="385.2" stroke="#666" stroke-width="1.1"/>
<line x1="479.2" y1="386.8" x2="479.2" y2="385.2" stroke="#666" stroke-width="1.1"/>
<line x1="516.4" y1="386.8" x2="516.4" y2="385.2" stroke="#666" stroke-width="1.1"/>
<line x1="339.6" y1="245.1" x2="342.6" y2="245.1" stroke="#666" stroke-width="1.1"/>
<line x1="339.6" y1="292.5" x2="342.6" y2="292.5" stroke="#666" stroke-width="1.1"/>
<line x1="339.6" y1="339.9" x2="342.6" y2="339.9" stroke="#666" stroke-width="1.1"/>
<line x1="339.6" y1="387.3" x2="342.6" y2="387.3" stroke="#666" stroke-width="1.1"/>
<line x1="339.6" y1="268.8" x2="341.20000000000005" y2="268.8" stroke="#666" stroke-width="1.1"/>
<line x1="339.6" y1="316.2" x2="341.20000000000005" y2="316.2" stroke="#666" stroke-width="1.1"/>
<line x1="339.6" y1="363.6" x2="341.20000000000005" y2="363.6" stroke="#666" stroke-width="1.1"/>
<line x1="346.9" y1="233.8" x2="367.4" y2="233.8" stroke="#92A9DC" stroke-width="3.5" stroke-linecap="round"/>
<line x1="346.9" y1="245.1" x2="367.4" y2="245.1" stroke="#FF93C9" stroke-width="3.5" stroke-linecap="round"/>
<text x="370.50" y="236.70" font-size="9.4" font-weight="bold" text-anchor="start" fill="#111" >DCV of PDA Sensor Before Test</text>
<text x="370.50" y="248.40" font-size="9.4" font-weight="bold" text-anchor="start" fill="#111" >DCV of PDA Sensor After Test</text>
<rect x="446.7" y="300.5" width="80.59999999999997" height="76.69999999999999" fill="#fff" stroke="#444" stroke-width="1.15"/>
<text x="445.20" y="312.90" font-size="7.2" font-weight="bold" text-anchor="end" fill="#111" >0.2</text>
<line x1="446.7" y1="309.8" x2="448.3" y2="309.8" stroke="#444" stroke-width="0.9"/>
<text x="445.20" y="331.90" font-size="7.2" font-weight="bold" text-anchor="end" fill="#111" >0.0</text>
<line x1="446.7" y1="328.8" x2="448.3" y2="328.8" stroke="#444" stroke-width="0.9"/>
<text x="445.20" y="350.90" font-size="7.2" font-weight="bold" text-anchor="end" fill="#111" >-0.2</text>
<line x1="446.7" y1="347.8" x2="448.3" y2="347.8" stroke="#444" stroke-width="0.9"/>
<text x="445.20" y="369.90" font-size="7.2" font-weight="bold" text-anchor="end" fill="#111" >-0.4</text>
<line x1="446.7" y1="366.8" x2="448.3" y2="366.8" stroke="#444" stroke-width="0.9"/>
<text x="447.50" y="386.30" font-size="7.3" font-weight="bold" text-anchor="middle" fill="#111" >-0.6</text>
<text x="474.00" y="386.30" font-size="7.3" font-weight="bold" text-anchor="middle" fill="#111" >-0.4</text>
<text x="500.50" y="386.30" font-size="7.3" font-weight="bold" text-anchor="middle" fill="#111" >-0.2</text>
<text x="527.00" y="386.30" font-size="7.3" font-weight="bold" text-anchor="middle" fill="#111" >0.0</text>
<line x1="447.5" y1="377.2" x2="447.5" y2="375.7" stroke="#444" stroke-width="0.8"/>
<line x1="460.8" y1="377.2" x2="460.8" y2="375.7" stroke="#444" stroke-width="0.8"/>
<line x1="474.0" y1="377.2" x2="474.0" y2="375.7" stroke="#444" stroke-width="0.8"/>
<line x1="487.2" y1="377.2" x2="487.2" y2="375.7" stroke="#444" stroke-width="0.8"/>
<line x1="500.5" y1="377.2" x2="500.5" y2="375.7" stroke="#444" stroke-width="0.8"/>
<line x1="513.8" y1="377.2" x2="513.8" y2="375.7" stroke="#444" stroke-width="0.8"/>
<line x1="527.0" y1="377.2" x2="527.0" y2="375.7" stroke="#444" stroke-width="0.8"/>
<path d="M473.2,348 L475.3,372 L477.4,348 Z" fill="#8299D8" opacity="0.25"/>
<line x1="477.7" y1="304" x2="477.7" y2="332" stroke="#8299D8" stroke-width="0.8" opacity="0.3"/>
<line x1="472.7" y1="304" x2="472.7" y2="345" stroke="#8299D8" stroke-width="0.8" opacity="0.2"/>
<path d="M447.5,326.2 C448.2,326.3 450.5,326.4 451.9,326.7 C453.3,327.0 454.8,327.8 455.9,328.2 C457.0,328.6 457.8,329.4 458.8,329.2 C459.8,328.9 461.0,327.9 461.8,326.7 C462.6,325.4 463.3,323.2 463.8,321.7 C464.3,320.2 464.0,318.9 464.8,317.8 C465.6,316.7 467.4,315.9 468.7,315.3 C470.0,314.7 471.5,314.3 472.7,314.3 C473.9,314.3 474.8,314.6 475.6,315.3 C476.4,316.1 477.0,317.2 477.6,318.8 C478.2,320.4 478.6,322.9 479.1,324.7 C479.6,326.5 480.2,328.6 480.6,329.6 C481.0,330.6 481.1,330.8 481.6,330.6 C482.1,330.4 482.9,328.4 483.5,328.2 C484.1,328.0 484.8,328.5 485.5,329.2 C486.2,329.9 487.4,331.7 488.0,332.3 C488.6,332.9 488.5,332.9 489.0,332.6 C489.5,332.3 490.1,331.8 490.9,330.6 C491.7,329.5 492.8,327.1 493.9,325.7 C495.0,324.3 496.3,322.9 497.8,322.2 C499.3,321.4 500.8,321.0 502.8,321.2 C504.8,321.4 507.2,322.4 509.7,323.2 C512.2,323.9 514.9,324.9 517.6,325.7 C520.3,326.4 524.4,327.4 525.8,327.7" fill="none" stroke="#8299D8" stroke-width="1.5" stroke-linecap="round" stroke-linejoin="round" opacity="1" />
<path d="M447.5,333.6 C448.1,333.4 449.5,332.9 450.9,332.6 C452.3,332.3 454.2,331.6 455.9,331.6 C457.5,331.6 459.3,332.2 460.8,332.6 C462.3,333.0 463.8,333.3 464.8,334.1 C465.8,334.9 466.1,335.7 466.8,337.5 C467.5,339.3 468.1,342.7 468.8,344.8 C469.5,346.9 470.2,349.3 470.8,350.3 C471.4,351.3 471.9,351.1 472.3,350.8 C472.7,350.6 473.0,348.3 473.3,348.8 C473.6,349.3 473.9,351.7 474.3,353.7 C474.7,355.7 475.4,359.9 475.8,360.6 C476.2,361.3 476.4,359.5 476.7,357.7 C477.0,355.9 477.4,351.6 477.7,350.0 C478.0,348.4 478.3,347.7 478.7,347.8 C479.1,347.9 479.6,350.6 480.2,350.8 C480.8,351.0 481.5,349.6 482.2,348.8 C482.9,348.0 483.7,347.3 484.6,345.8 C485.5,344.3 486.8,341.7 487.6,339.9 C488.4,338.1 488.9,336.4 489.6,334.9 C490.3,333.4 490.7,332.4 491.6,331.0 C492.5,329.6 493.5,327.6 494.9,326.7 C496.3,325.8 497.3,325.8 499.8,325.7 C502.3,325.6 506.4,326.1 509.7,326.2 C513.0,326.3 516.9,326.1 519.6,326.2 C522.3,326.3 524.8,326.6 525.8,326.7" fill="none" stroke="#8299D8" stroke-width="1.5" stroke-linecap="round" stroke-linejoin="round" opacity="1" />
<line x1="477.7" y1="331" x2="477.7" y2="352" stroke="#8299D8" stroke-width="1.3"/>
<path d="M447.5,330.6 C448.2,330.3 450.5,329.4 451.9,328.7 C453.3,328.0 454.6,327.2 455.9,326.2 C457.2,325.2 458.6,323.7 459.8,322.7 C461.0,321.7 462.0,320.8 462.8,320.3 C463.6,319.8 464.0,319.7 464.8,319.8 C465.6,319.9 466.6,320.2 467.7,320.8 C468.8,321.4 470.4,322.3 471.7,323.2 C473.0,324.1 474.3,325.3 475.6,326.2 C476.9,327.1 478.4,328.7 479.6,328.7 C480.8,328.7 481.6,327.0 482.6,326.2 C483.6,325.4 484.1,324.5 485.5,323.7 C486.9,322.9 489.0,321.5 490.9,321.2 C492.8,320.9 494.6,321.4 496.9,321.7 C499.2,321.9 502.2,322.3 504.8,322.7 C507.4,323.1 510.2,323.6 512.7,324.2 C515.2,324.8 517.4,325.3 519.6,326.2 C521.8,327.1 524.8,329.0 525.8,329.6" fill="none" stroke="#F886C2" stroke-width="1.9" stroke-linecap="round" stroke-linejoin="round" opacity="1" />
<path d="M447.5,334.1 C448.2,334.2 450.2,334.4 451.9,334.6 C453.6,334.9 456.4,335.3 457.9,335.6 C459.4,335.9 459.7,336.2 460.9,336.4 C462.1,336.6 463.8,336.1 464.9,336.9 C466.0,337.6 466.8,339.6 467.8,340.9 C468.8,342.2 469.9,343.6 470.8,344.8 C471.7,346.0 472.6,347.1 473.3,347.8 C474.1,348.5 474.7,348.7 475.3,348.8 C475.9,348.9 476.6,349.1 477.2,348.3 C477.8,347.5 478.5,345.4 479.2,343.8 C479.9,342.2 480.5,340.2 481.2,338.9 C481.9,337.6 482.5,336.2 483.2,335.9 C483.9,335.6 484.7,337.1 485.6,336.9 C486.5,336.7 487.8,335.4 488.6,334.9 C489.4,334.4 489.8,333.7 490.6,334.0 C491.4,334.3 492.8,336.2 493.5,336.9 C494.2,337.6 494.0,338.2 494.9,338.0 C495.8,337.8 497.5,337.0 498.8,335.6 C500.1,334.2 501.6,331.4 502.8,329.6 C504.0,327.8 504.9,325.6 506.2,324.7 C507.5,323.8 508.5,324.2 510.7,324.2 C512.9,324.2 517.1,324.7 519.6,324.7 C522.1,324.7 524.8,324.3 525.8,324.2" fill="none" stroke="#F886C2" stroke-width="1.9" stroke-linecap="round" stroke-linejoin="round" opacity="1" />
</svg>
</body></html>
